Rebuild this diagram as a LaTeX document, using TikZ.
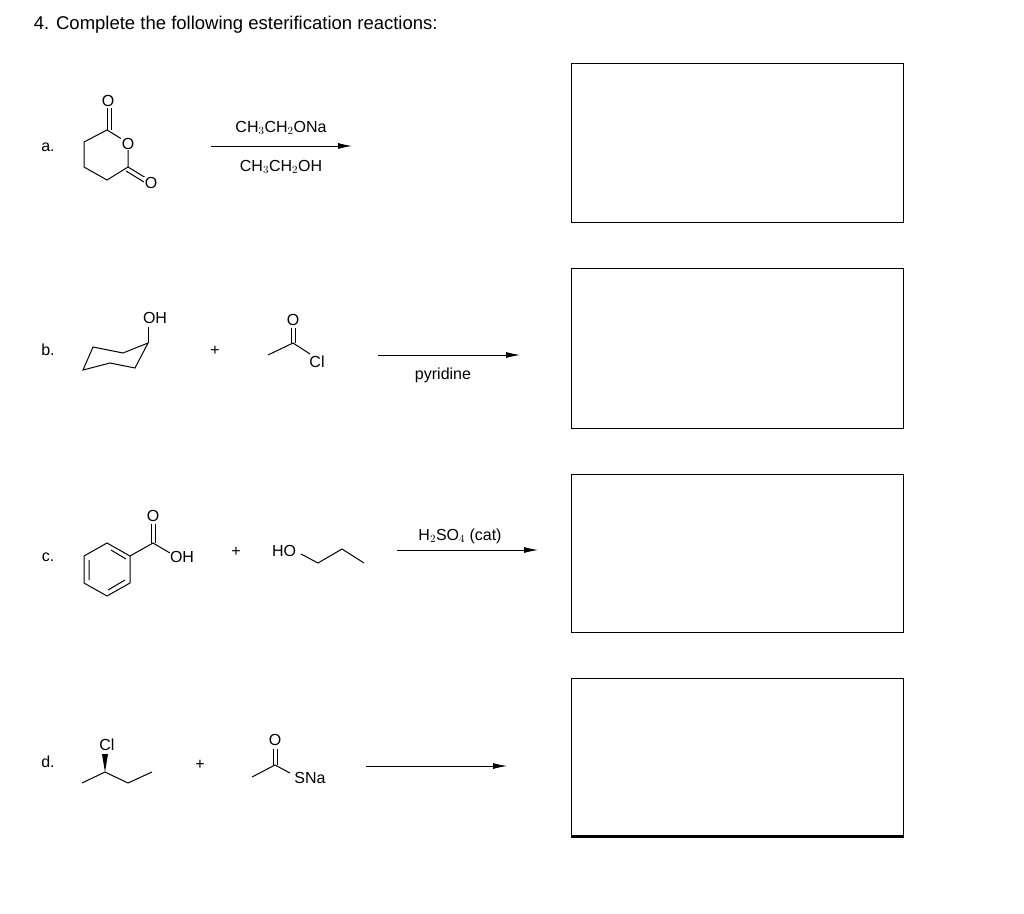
\documentclass[tikz,border=0pt]{standalone}
\usepackage{fontspec}
\setmainfont{Liberation Sans}
\usetikzlibrary{arrows.meta}
\begin{document}
\begin{tikzpicture}[x=1pt,y=-1pt,line width=1pt,
  lab/.style={font=\fontsize{16}{18}\selectfont,inner sep=0.5pt},
  atm/.style={font=\fontsize{16}{18}\selectfont,inner sep=0.5pt,fill=white},
  bx/.style={draw,line width=1.3pt},
  rxn/.style={-{Latex[length=14pt,width=6pt]},line width=0.8pt}]
\useasboundingbox (0,0) rectangle (1024,913);
\node[font=\fontsize{18.5}{20}\selectfont,anchor=west] (title) at (30,25) {4. Complete the following esterification reactions:};
% boxes
\node[bx,minimum width=332pt,minimum height=159pt,anchor=north west] (ba) at (571,63) {};
\node[bx,minimum width=332pt,minimum height=160pt,anchor=north west] (bb) at (571,268) {};
\node[bx,minimum width=332pt,minimum height=158pt,anchor=north west] (bc) at (571,474) {};
\node[bx,minimum width=332pt,minimum height=159pt,anchor=north west] (bd) at (571,678) {};
\draw[line width=3pt] (571,836) -- (903,836);
% labels
\node[lab] (la) at (48,147) {a.};
\node[lab] (lb) at (48,350) {b.};
\node[lab] (lc) at (48,557) {c.};
\node[lab] (ld) at (48,762) {d.};
% --- a: glutaric anhydride
\draw (107,130) -- (125,141) (128,150) -- (128,167) -- (107,180) -- (84,167) -- (84,142) -- (107,130);
\draw (107,130) -- (107,108) (111,130) -- (111,108);
\node[atm] (oa1) at (108,101) {O};
\node[atm] (oa2) at (128,144) {O};
\draw (128,167) -- (146,178) (126,171) -- (144,182);
\node[atm] (oa3) at (151,183) {O};
\draw[rxn] (211,146) -- (352,146);
\node[lab] (ra1) at (281,128) {CH$_3$CH$_2$ONa};
\node[lab] (ra2) at (281,167) {CH$_3$CH$_2$OH};
% --- b
\draw (83,370) -- (93,347) -- (123,353) -- (148,343) -- (135,368) -- (110,363) -- cycle;
\draw (148,343) -- (148,327);
\node[lab] (ohb) at (155,318) {OH};
\node[lab] (pb) at (215,351) {+};
\draw (268,355) -- (293,343) -- (310,354);
\draw (291,343) -- (291,328) (295,343) -- (295,328);
\node[atm] (ob) at (293,320) {O};
\node[atm] (clb) at (317,362) {Cl};
\draw[rxn] (378,355) -- (520,355);
\node[lab] (rb) at (443,375) {pyridine};
% --- c
\draw (107,543) -- (130,556) -- (130,583) -- (107,596) -- (84,583) -- (84,556) -- cycle;
\draw (111,550) -- (126,559) (125,580) -- (108,590) (89,560) -- (89,580);
\draw (130,556) -- (153,543) -- (170,553);
\draw (151,543) -- (151,524) (155,543) -- (155,524);
\node[atm] (oc) at (153,516) {O};
\node[atm] (ohc) at (182,557) {OH};
\node[lab] (pc) at (236,552) {+};
\node[atm] (hoc) at (284,551) {HO};
\draw (301,554) -- (318,563) -- (342,549) -- (364,563);
\draw[rxn] (397,550) -- (538,550);
\node[lab] (rc) at (460,536) {H$_2$SO$_4$ (cat)};
% --- d
\draw (82,783) -- (105,772) -- (128,783) -- (152,772);
\fill (105,772) -- (102,754) -- (108,754) -- cycle;
\node[lab] (cld) at (107,745) {Cl};
\node[lab] (pd) at (200,765) {+};
\draw (252,777) -- (275,765) -- (290,773);
\draw (273,765) -- (273,749) (277,765) -- (277,749);
\node[atm] (od) at (275,740) {O};
\node[atm] (snad) at (310,778) {SNa};
\draw[rxn] (366,766) -- (507,766);
\end{tikzpicture}
\end{document}
